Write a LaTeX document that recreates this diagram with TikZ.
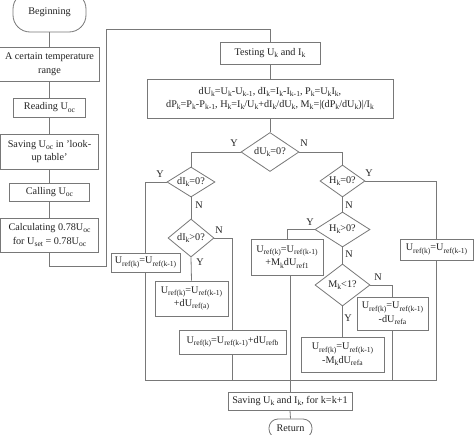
\documentclass[tikz,border=0pt]{standalone}
\usepackage{fontspec}
\setmainfont{Liberation Serif}
\usetikzlibrary{shapes.geometric}
\newcommand{\sbs}[1]{\raisebox{-2.2pt}{\fontsize{7.6}{8}\selectfont #1}}
\definecolor{ln}{RGB}{120,120,120}
\definecolor{tx}{RGB}{35,35,35}
\begin{document}
\begin{tikzpicture}[x=1pt,y=-1pt,
  every node/.style={font=\fontsize{10.2}{13.5}\selectfont, text=tx},
  box/.style={draw=ln, line width=0.8pt, rectangle, inner sep=1pt, align=center},
  term/.style={box, rounded corners=13pt},
  dia/.style={draw=ln, line width=0.8pt, diamond, inner sep=0pt},
  conn/.style={draw=ln, line width=0.8pt},
  lab/.style={inner sep=0pt}]
\useasboundingbox (0,0) rectangle (474,434);
\fill[white] (0,0) rectangle (474,434);
\clip (0,0) rectangle (474,434);
% left column
\node[term, rounded corners=17pt, minimum width=73pt, minimum height=40pt] (begin) at (49.5,12) {Beginning};
\node[box, minimum width=100pt, minimum height=34pt] (temp) at (49.5,64) {A certain temperature\\range};
\node[box, minimum width=72pt, minimum height=19pt] (read) at (49.5,107.5) {Reading U\sbs{oc}};
\node[box, minimum width=98pt, minimum height=35pt] (save) at (49.5,151.5) {Saving U\sbs{oc} in 'look-\\up table'};
\node[box, minimum width=80pt, minimum height=18pt] (call) at (49.5,192) {Calling U\sbs{oc}};
\node[box, minimum width=98pt, minimum height=34pt] (calc) at (49.5,235) {Calculating 0.78U\sbs{oc}\\for U\sbs{set} = 0.78U\sbs{oc}};
% main column
\node[box, minimum width=100pt, minimum height=22pt] (test) at (270,53) {Testing U\sbs{k} and I\sbs{k}};
\node[box, minimum width=246pt, minimum height=39pt] (form) at (270,98.5) {dU\sbs{k}=U\sbs{k}-U\sbs{k-1}, dI\sbs{k}=I\sbs{k}-I\sbs{k-1}, P\sbs{k}=U\sbs{k}I\sbs{k},\\dP\sbs{k}=P\sbs{k}-P\sbs{k-1}, H\sbs{k}=I\sbs{k}/U\sbs{k}+dI\sbs{k}/dU\sbs{k}, M\sbs{k}=|(dP\sbs{k}/dU\sbs{k})|/I\sbs{k}};
% decisions
\node[dia, minimum width=58pt, minimum height=39pt, label=center:{dU\sbs{k}=0?}] (d1) at (270,152) {};
\node[dia, minimum width=48pt, minimum height=30pt, label=center:{dI\sbs{k}=0?}] (d2) at (191,182) {};
\node[dia, minimum width=46pt, minimum height=38pt, label=center:{dI\sbs{k}>0?}] (d3) at (191,238) {};
\node[dia, minimum width=45pt, minimum height=32pt, label=center:{H\sbs{k}=0?}] (d4) at (342.5,181) {};
\node[dia, minimum width=55pt, minimum height=35pt, label=center:{H\sbs{k}>0?}] (d5) at (342.5,229.5) {};
\node[dia, minimum width=55pt, minimum height=42pt, label=center:{M\sbs{k}<1?}] (d6) at (342.5,285) {};
% result boxes
\node[box, minimum width=69pt, minimum height=19pt] (bx1) at (145.5,262.5) {U\sbs{ref(k)}=U\sbs{ref(k-1)}};
\node[box, minimum width=73pt, minimum height=35pt] (bxa) at (191.5,298.5) {U\sbs{ref(k)}=U\sbs{ref(k-1)}\\+dU\sbs{ref(a)}};
\node[box, minimum width=107pt, minimum height=24pt] (bxb) at (232.5,342) {U\sbs{ref(k)}=U\sbs{ref(k-1)}+dU\sbs{refb}};
\node[box, minimum width=72pt, minimum height=36pt] (bxc) at (287,257) {U\sbs{ref(k)}=U\sbs{ref(k-1)}\\+M\sbs{k}dU\sbs{ref1}};
\node[box, minimum width=71pt, minimum height=33pt] (bxd) at (392.5,313.5) {U\sbs{ref(k)}=U\sbs{ref(k-1)}\\-dU\sbs{refa}};
\node[box, minimum width=83pt, minimum height=35pt] (bxe) at (342.5,354.5) {U\sbs{ref(k)}=U\sbs{ref(k-1)}\\-M\sbs{k}dU\sbs{refa}};
\node[box, minimum width=73pt, minimum height=21pt] (bxr) at (436.5,249.5) {U\sbs{ref(k)}=U\sbs{ref(k-1)}};
\node[box, minimum width=124pt, minimum height=18pt] (save2) at (290,401) {Saving U\sbs{k} and I\sbs{k}, for k=k+1};
\node[term, rounded corners=9pt, minimum width=43pt, minimum height=19pt] (ret) at (290.5,428.5) {Return};
% Y / N labels
\node[lab] (y1) at (234,143) {Y};
\node[lab] (n1) at (304,143) {N};
\node[lab] (y2) at (160,174) {Y};
\node[lab] (n2) at (199,205) {N};
\node[lab] (n3) at (219,230) {N};
\node[lab] (y3) at (200,262) {Y};
\node[lab] (y4) at (369,173) {Y};
\node[lab] (n4) at (349,205) {N};
\node[lab] (y5) at (310,222) {Y};
\node[lab] (n5) at (349,254) {N};
\node[lab] (n6) at (378,277) {N};
\node[lab] (y6) at (348,318) {Y};
% connectors
\draw[conn] (begin.south) -- (temp.north);
\draw[conn] (temp.south) -- (read.north);
\draw[conn] (read.south) -- (save.north);
\draw[conn] (save.south) -- (call.north);
\draw[conn] (call.south) -- (calc.north);
\coordinate (c1) at (106,266);
\coordinate (c2) at (106,29);
\draw[conn] (calc.south) |- (c1) -- (c2) -| (test.north);
\draw[conn] (test.south) -- (form.north);
\draw[conn] (form.south) -- (d1.north);
\draw[conn] (d1.west) -| (d2.north);
\draw[conn] (d1.east) -| (d4.north);
\draw[conn] (d2.west) -| (bx1.north);
\draw[conn] (d2.south) -- (d3.north);
\draw[conn] (d3.east) -| (bxb.north);
\draw[conn] (d3.south) -- (bxa.north);
\draw[conn] (d4.east) -| (bxr.north);
\draw[conn] (d4.south) -- (d5.north);
\draw[conn] (d5.west) -| (bxc.north);
\draw[conn] (d5.south) -- (d6.north);
\draw[conn] (d6.east) -| (bxd.north);
\draw[conn] (d6.south) -- (bxe.north);
\coordinate (busL) at (145.5,380);
\coordinate (busR) at (436.5,380);
\draw[conn] (bx1.south) -- (busL) -- (busR) -- (bxr.south);
\draw[conn] (bxb.south) -- (bxb.south |- busL);
\draw[conn] (bxd.south) -- (bxd.south |- busL);
\draw[conn] (save2.north |- bxc.south) -- (save2.north);
\draw[conn] (save2.south) -- (ret.north);
\end{tikzpicture}
\end{document}
